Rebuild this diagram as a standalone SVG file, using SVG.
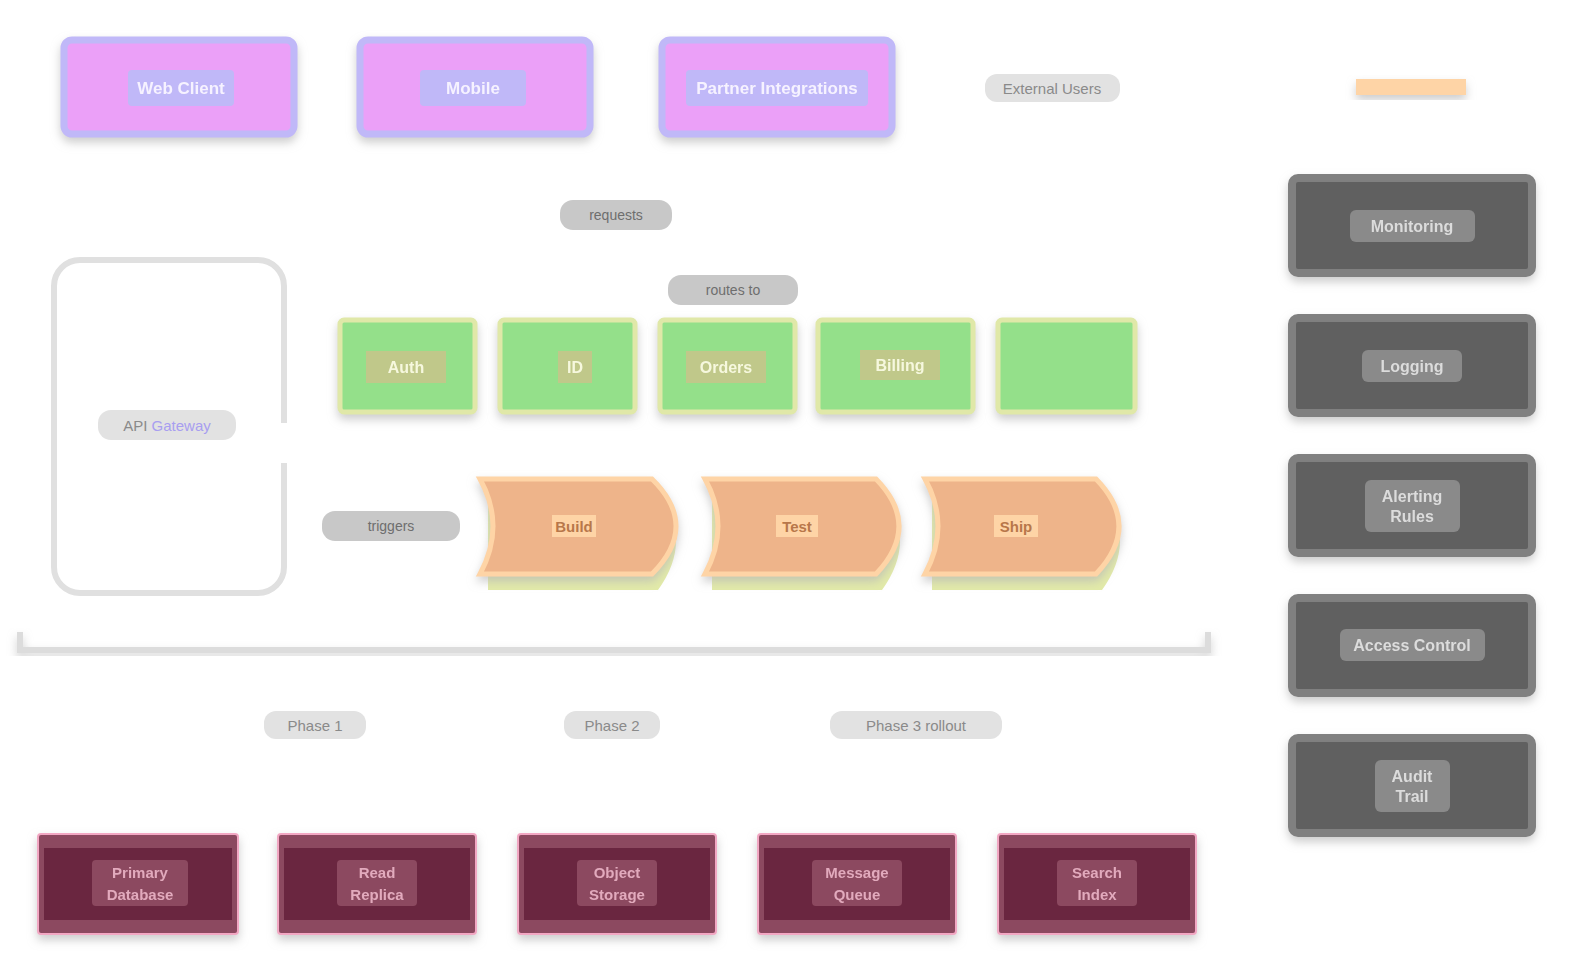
<svg xmlns="http://www.w3.org/2000/svg" width="1575" height="975" viewBox="0 0 1575 975">
<defs>
<filter id="sh" x="-20%" y="-20%" width="140%" height="150%">
<feDropShadow dx="0" dy="5" stdDeviation="5" flood-color="#b8b8b8" flood-opacity="0.7"/>
</filter>
<style>
text{font-family:"Liberation Sans",Arial,sans-serif;text-anchor:middle;dominant-baseline:central}
.client rect.o{fill:#eba0f8;stroke:#c0b8f8;stroke-width:7}
.client rect.t{fill:#c0b8f8}
.client text{fill:#f6f2ff;font-size:17px;font-weight:bold}
.svc rect.o{fill:#94e08a;stroke:#e0e8a8;stroke-width:5}
.svc rect.t{fill:#c0c88a}
.svc text{fill:#f6f8de;font-size:16px;font-weight:bold}
.ops rect.o{fill:#606060;stroke:#808080;stroke-width:8}
.ops rect.t{fill:#8a8a8a}
.ops text{fill:#dcdcdc;font-size:16px;font-weight:bold}
.stage path.b{fill:#e2eaa8}
.stage path.f{fill:#eeb48a;stroke:#fed4a6;stroke-width:5}
.stage rect.t{fill:#fed4a6}
.stage text{fill:#b8774a;font-size:15px;font-weight:bold}
.store rect.o{fill:#8c4a60;stroke:#f2a7c3;stroke-width:2}
.store rect.i{fill:#6b2540}
.store rect.t{fill:#8c4a60}
.store text{fill:#e2aabd;font-size:15px;font-weight:bold}
.lbl rect{fill:#e2e2e2}
.lbl text{fill:#8a8a8a;font-size:15px}
.elbl rect{fill:#c8c8c8}
.elbl text{fill:#6e6e6e;font-size:14px}
</style>
</defs>
<rect width="1575" height="975" fill="#ffffff"/>

<g id="client-web" class="client" filter="url(#sh)"><rect class="o" x="64" y="40" width="230" height="94" rx="8"/><rect class="t" x="128" y="70" width="106" height="36" rx="4"/><text x="181" y="88">Web Client</text></g>
<g id="client-mobile" class="client" filter="url(#sh)"><rect class="o" x="360" y="40" width="230" height="94" rx="8"/><rect class="t" x="420" y="70" width="106" height="36" rx="4"/><text x="473" y="88">Mobile</text></g>
<g id="client-partner" class="client" filter="url(#sh)"><rect class="o" x="662" y="40" width="230" height="94" rx="8"/><rect class="t" x="686" y="70" width="182" height="36" rx="4"/><text x="777" y="88">Partner Integrations</text></g>

<g id="label-users" class="lbl"><rect x="985" y="74" width="135" height="28" rx="12"/><text x="1052" y="88">External Users</text></g>
<g id="legend-core" filter="url(#sh)"><rect x="1356" y="79" width="110" height="16" fill="#fed4a6"/></g>

<g id="gateway">
<rect x="54" y="260" width="230" height="333" rx="26" fill="#ffffff" stroke="#e0e0e0" stroke-width="6"/>
<rect x="278" y="423" width="14" height="40" fill="#ffffff"/>
<rect x="98" y="410" width="138" height="30" rx="13" fill="#e2e2e2"/>
<text x="167" y="425" font-size="15" fill="#8a8a8a">API <tspan fill="#a89ef0">Gateway</tspan></text>
</g>

<g id="svc-auth" class="svc" filter="url(#sh)"><rect class="o" x="340" y="320" width="135" height="92" rx="4"/><rect class="t" x="366" y="351" width="80" height="32"/><text x="406" y="367">Auth</text></g>
<g id="svc-users" class="svc" filter="url(#sh)"><rect class="o" x="500" y="320" width="135" height="92" rx="4"/><rect class="t" x="558" y="351" width="34" height="32"/><text x="575" y="367">ID</text></g>
<g id="svc-orders" class="svc" filter="url(#sh)"><rect class="o" x="660" y="320" width="135" height="92" rx="4"/><rect class="t" x="686" y="351" width="80" height="32"/><text x="726" y="367">Orders</text></g>
<g id="svc-billing" class="svc" filter="url(#sh)"><rect class="o" x="818" y="320" width="155" height="92" rx="4"/><rect class="t" x="860" y="350" width="80" height="30"/><text x="900" y="365">Billing</text></g>
<g id="svc-extra" class="svc" filter="url(#sh)"><rect class="o" x="998" y="320" width="137" height="92" rx="4"/></g>

<g id="stage-build" class="stage">
<path class="b" d="M488,492 H658 Q694,540 658,590 H488 Z"/>
<path class="f" filter="url(#sh)" d="M480,479 H652 Q700,526 652,574 H480 Q506,526 480,479 Z"/>
<rect class="t" x="552" y="515" width="44" height="22"/><text x="574" y="526">Build</text></g>
<g id="stage-test" class="stage">
<path class="b" d="M712,492 H882 Q918,540 882,590 H712 Z"/>
<path class="f" filter="url(#sh)" d="M705,479 H876 Q922,526 876,574 H705 Q731,526 705,479 Z"/>
<rect class="t" x="776" y="515" width="42" height="22"/><text x="797" y="526">Test</text></g>
<g id="stage-ship" class="stage">
<path class="b" d="M932,492 H1102 Q1138,540 1102,590 H932 Z"/>
<path class="f" filter="url(#sh)" d="M925,479 H1096 Q1142,526 1096,574 H925 Q951,526 925,479 Z"/>
<rect class="t" x="994" y="515" width="44" height="22"/><text x="1016" y="526">Ship</text></g>

<g id="ops-monitoring" class="ops" filter="url(#sh)"><rect class="o" x="1292" y="178" width="240" height="95" rx="6"/><rect class="t" x="1350" y="210" width="125" height="32" rx="6"/><text x="1412" y="226">Monitoring</text></g>
<g id="ops-logging" class="ops" filter="url(#sh)"><rect class="o" x="1292" y="318" width="240" height="95" rx="6"/><rect class="t" x="1362" y="350" width="100" height="32" rx="6"/><text x="1412" y="366">Logging</text></g>
<g id="ops-alerting" class="ops" filter="url(#sh)"><rect class="o" x="1292" y="458" width="240" height="95" rx="6"/><rect class="t" x="1365" y="480" width="95" height="52" rx="6"/><text x="1412" y="496">Alerting</text><text x="1412" y="516">Rules</text></g>
<g id="ops-access" class="ops" filter="url(#sh)"><rect class="o" x="1292" y="598" width="240" height="95" rx="6"/><rect class="t" x="1340" y="629" width="145" height="32" rx="6"/><text x="1412" y="645">Access Control</text></g>
<g id="ops-audit" class="ops" filter="url(#sh)"><rect class="o" x="1292" y="738" width="240" height="95" rx="6"/><rect class="t" x="1375" y="760" width="75" height="52" rx="6"/><text x="1412" y="776">Audit</text><text x="1412" y="796">Trail</text></g>

<g id="timeline" filter="url(#sh)">
<path d="M20,632 V650 H1208 V632" fill="none" stroke="#dcdcdc" stroke-width="6"/>
</g>
<g id="phase-1" class="lbl"><rect x="264" y="711" width="102" height="28" rx="12"/><text x="315" y="725">Phase 1</text></g>
<g id="phase-2" class="lbl"><rect x="564" y="711" width="96" height="28" rx="12"/><text x="612" y="725">Phase 2</text></g>
<g id="phase-3" class="lbl"><rect x="830" y="711" width="172" height="28" rx="12"/><text x="916" y="725">Phase 3 rollout</text></g>

<g id="store-1" class="store" filter="url(#sh)"><rect class="o" x="38" y="834" width="200" height="100" rx="3"/><rect class="i" x="44" y="848" width="188" height="72"/><rect class="t" x="92" y="860" width="96" height="46" rx="4"/><text x="140" y="872">Primary</text><text x="140" y="894">Database</text></g>
<g id="store-2" class="store" filter="url(#sh)"><rect class="o" x="278" y="834" width="198" height="100" rx="3"/><rect class="i" x="284" y="848" width="186" height="72"/><rect class="t" x="337" y="860" width="80" height="46" rx="4"/><text x="377" y="872">Read</text><text x="377" y="894">Replica</text></g>
<g id="store-3" class="store" filter="url(#sh)"><rect class="o" x="518" y="834" width="198" height="100" rx="3"/><rect class="i" x="524" y="848" width="186" height="72"/><rect class="t" x="577" y="860" width="80" height="46" rx="4"/><text x="617" y="872">Object</text><text x="617" y="894">Storage</text></g>
<g id="store-4" class="store" filter="url(#sh)"><rect class="o" x="758" y="834" width="198" height="100" rx="3"/><rect class="i" x="764" y="848" width="186" height="72"/><rect class="t" x="812" y="860" width="90" height="46" rx="4"/><text x="857" y="872">Message</text><text x="857" y="894">Queue</text></g>
<g id="store-5" class="store" filter="url(#sh)"><rect class="o" x="998" y="834" width="198" height="100" rx="3"/><rect class="i" x="1004" y="848" width="186" height="72"/><rect class="t" x="1057" y="860" width="80" height="46" rx="4"/><text x="1097" y="872">Search</text><text x="1097" y="894">Index</text></g>

<g id="connectors">
<g id="edge-requests" class="elbl"><rect x="560" y="200" width="112" height="30" rx="13"/><text x="616" y="215">requests</text></g>
<g id="edge-routes" class="elbl"><rect x="668" y="275" width="130" height="30" rx="13"/><text x="733" y="290">routes to</text></g>
<g id="edge-triggers" class="elbl"><rect x="322" y="511" width="138" height="30" rx="13"/><text x="391" y="526">triggers</text></g>
</g>
</svg>
